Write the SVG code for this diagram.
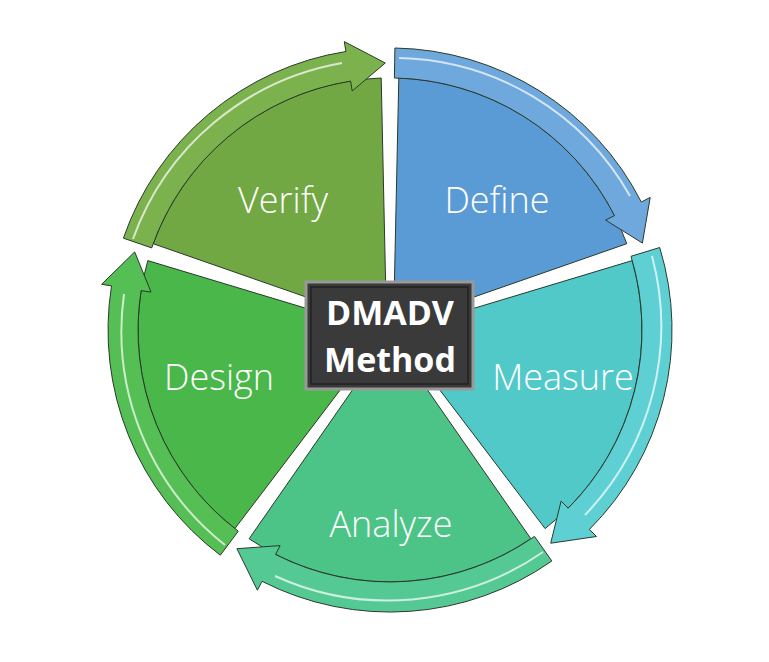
<svg xmlns="http://www.w3.org/2000/svg" width="769" height="662" viewBox="0 0 769 662">
<style>
.w{stroke:#2a3a2a;stroke-width:1}
.a{stroke:#2a3a2a;stroke-width:1}
.h{fill:none;stroke:#ffffff;stroke-width:2;stroke-opacity:0.7}
.l{font-family:"Open Sans","Liberation Sans",sans-serif;font-weight:300;font-size:36px;fill:#fff;text-anchor:middle}
.c{font-family:"Open Sans","Liberation Sans",sans-serif;font-weight:700;font-size:34px;fill:#fff;text-anchor:middle}
</style>
<rect width="769" height="662" fill="#fff"/>
<g id="define">
<path class="w" fill="#5B9BD5" d="M393.5,325.1 L398.8,78 A252,252 0 0 1 626.8,243.7 Z"/>
<path class="a" fill="#6FA8DC" d="M394.9,48 A282,282 0 0 1 641.3,202 L650.2,197.4 L642.4,243.1 L605.6,220.1 L614.5,215.6 A252,252 0 0 0 394.4,78 Z"/>
<path class="h" d="M399,58 A272,272 0 0 1 630,196"/>
<text class="l" x="497" y="213">Define</text>
</g>
<g id="measure">
<path class="w" fill="#52C9C9" d="M395.7,331.9 L632.2,260.6 A252,252 0 0 1 545.1,528.6 Z"/>
<path class="a" fill="#5ED0D4" d="M659.7,247.5 A282,282 0 0 1 589.4,529.4 L596.5,536.5 L550.7,543.2 L561.1,501.1 L568.2,508.2 A252,252 0 0 0 631,256.3 Z"/>
<path class="h" d="M652,256 A272,272 0 0 1 585,515"/>
<text class="l" x="563" y="390">Measure</text>
</g>
<g id="analyze">
<path class="w" fill="#4CC488" d="M390,336 L530.9,538.8 A252,252 0 0 1 249.1,538.8 Z"/>
<path class="a" fill="#55C993" d="M551.8,561 A282,282 0 0 1 262,581.3 L257.4,590.2 L236.9,548.7 L280.1,545.6 L275.6,554.5 A252,252 0 0 0 534.5,536.4 Z"/>
<path class="h" d="M543,552 A272,272 0 0 1 275,576"/>
<text class="l" x="391" y="537">Analyze</text>
</g>
<g id="design">
<path class="w" fill="#4AB74A" d="M384.3,331.9 L234.9,528.6 A252,252 0 0 1 147.8,260.6 Z"/>
<path class="a" fill="#55BE55" d="M220.3,555.2 A282,282 0 0 1 111.5,285.9 L101.6,284.3 L134.7,251.9 L151,292.1 L141.1,290.6 A252,252 0 0 0 238.3,531.2 Z"/>
<path class="h" d="M225,545 A272,272 0 0 1 124,294"/>
<text class="l" x="219" y="390">Design</text>
</g>
<g id="verify">
<path class="w" fill="#71A843" d="M386.5,325.1 L153.2,243.7 A252,252 0 0 1 381.2,78 Z"/>
<path class="a" fill="#7CB24E" d="M123.4,238.2 A282,282 0 0 1 345.9,51.5 L344.3,41.6 L385.3,63 L352.2,91 L350.6,81.1 A252,252 0 0 0 151.7,247.9 Z"/>
<path class="h" d="M133,239 A272,272 0 0 1 342,63"/>
<text class="l" x="283" y="213">Verify</text>
</g>
<g id="center">
<rect x="306" y="282" width="167" height="107" fill="#3a3a3a" stroke="#999" stroke-width="3"/>
<rect x="311" y="287" width="157" height="97" fill="none" stroke="#222" stroke-width="1.5"/>
<text class="c" x="390" y="325">DMADV</text>
<text class="c" x="390" y="372">Method</text>
</g>
<g id="connectors"></g>
</svg>
